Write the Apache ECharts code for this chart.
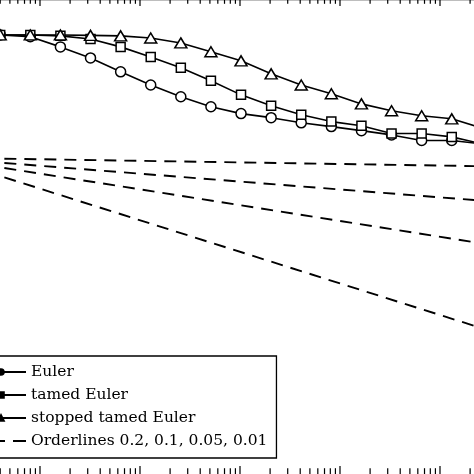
<!DOCTYPE html>
<html>
<head>
<meta charset="utf-8">
<script src="https://cdn.jsdelivr.net/npm/echarts@6/dist/echarts.min.js"></script>
<style>
    html, body { margin: 0; padding: 0; background: #fff; }
    #chart { width: 474px; height: 474px; }
</style>
</head>
<body>
<div id="chart"></div>
<script>
// number of steps (powers of two), last point lies just past the right edge
const steps = [4, 8, 16, 32, 64, 128, 256, 512, 1024, 2048, 4096, 8192, 16384, 32768, 65536, 131072, 262144]
const euler = [0.601, 0.586, 0.505, 0.430, 0.351, 0.290, 0.244, 0.211, 0.191, 0.180, 0.167, 0.158, 0.149, 0.140, 0.129, 0.129, 0.123]
const tamedEuler = [0.601, 0.601, 0.593, 0.567, 0.505, 0.436, 0.372, 0.308, 0.251, 0.214, 0.188, 0.170, 0.160, 0.143, 0.143, 0.136, 0.123]
const stoppedTamedEuler = [0.601, 0.601, 0.601, 0.597, 0.593, 0.575, 0.535, 0.470, 0.412, 0.341, 0.290, 0.255, 0.220, 0.199, 0.185, 0.177, 0.155]

// order lines 0.2, 0.1, 0.05, 0.01 : start / end values
const orderX = [4.4, 262144]
const order001 = [0.0990, 0.0887]
const order005 = [0.0930, 0.0537]
const order01 = [0.0865, 0.0288]
const order02 = [0.0754, 0.00837]

// axis ticks (log x axis)
const majorTicks = [10, 100, 1000, 10000, 100000]
const minorTicks = [4, 5, 6, 7, 8, 9,
    20, 30, 40, 50, 60, 70, 80, 90,
    200, 300, 400, 500, 600, 700, 800, 900,
    2000, 3000, 4000, 5000, 6000, 7000, 8000, 9000,
    20000, 30000, 40000, 50000, 60000, 70000, 80000, 90000,
    200000]

const xMin = 3.981
const xMax = 218776
const yMin = 0.001
const yMax = 1

const ORDER_NAME = 'Orderlines 0.2, 0.1, 0.05, 0.01'
const zip = (xs, ys) => xs.map((x, i) => [x, ys[i]])

const chart = echarts.init(document.getElementById('chart'), null, { renderer: 'canvas' })

const markSeries = (name, data, symbol, symbolSize) => ({
    name,
    type: 'line',
    data: zip(steps, data),
    symbol,
    symbolSize,
    showSymbol: true,
    clip: true,
    lineStyle: { color: '#000', width: 1.6 },
    itemStyle: { color: '#fff', borderColor: '#000', borderWidth: 1.5 },
    z: 3
})

const orderSeries = data => ({
    name: ORDER_NAME,
    type: 'line',
    data: zip(orderX, data),
    symbol: 'none',
    clip: true,
    lineStyle: { color: '#000', width: 1.9, type: [12, 8] },
    itemStyle: { color: '#000' },
    z: 2
})

const tickData = majorTicks.map(v => [v, 0.5, 1]).concat(minorTicks.map(v => [v, 0.5, 0]))

const option = {
    animation: false,
    backgroundColor: '#fff',
    grid: { left: 0, right: 0, top: 0, bottom: -1 },
    xAxis: [{
        type: 'log',
        min: xMin,
        max: xMax,
        position: 'bottom',
        axisLine: { show: false },
        axisTick: { show: false },
        axisLabel: { show: false },
        splitLine: { show: false }
    }, {
        type: 'log',
        min: xMin,
        max: xMax,
        position: 'top',
        axisLine: { show: true, lineStyle: { color: '#bdbdbd', width: 2 } },
        axisTick: { show: false },
        axisLabel: { show: false },
        splitLine: { show: false }
    }],
    yAxis: {
        type: 'log',
        min: yMin,
        max: yMax,
        show: false
    },
    legend: {
        orient: 'vertical',
        left: -33,
        top: 356,
        itemWidth: 50,
        itemHeight: 7,
        itemGap: 7,
        padding: [8, 9, 9, 8],
        borderColor: '#000',
        borderWidth: 1.3,
        borderRadius: 0,
        backgroundColor: '#fff',
        textStyle: { fontFamily: 'DejaVu Serif', fontSize: 15.5, color: '#000' },
        data: [
            { name: 'Euler', itemStyle: { color: '#000', borderColor: '#000' } },
            { name: 'tamed Euler', itemStyle: { color: '#000', borderColor: '#000' } },
            { name: 'stopped tamed Euler', itemStyle: { color: '#000', borderColor: '#000' } },
            {
                name: ORDER_NAME,
                icon: 'path://M0,0h9v1.8h-9z M17,0h12v1.8h-12z M37,0h13v1.8h-13z',
                itemStyle: { color: '#000' }
            }
        ]
    },
    series: [
        markSeries('Euler', euler, 'circle', 10),
        markSeries('tamed Euler', tamedEuler, 'rect', 9),
        markSeries('stopped tamed Euler', stoppedTamedEuler, 'triangle', [12, 10]),
        orderSeries(order02),
        orderSeries(order01),
        orderSeries(order005),
        orderSeries(order001),
        {
            // tick marks on the top and bottom frame
            type: 'custom',
            silent: true,
            clip: false,
            data: tickData,
            encode: { x: 0, y: 1 },
            renderItem(params, api) {
                const v = api.value(0)
                const major = api.value(2) === 1
                const top = api.coord([v, yMax])
                const bottom = api.coord([v, yMin])
                const len = major ? 6 : 3.8
                const style = { stroke: '#000', lineWidth: 1.2 }
                return {
                    type: 'group',
                    children: [
                        { type: 'line', shape: { x1: top[0], y1: top[1], x2: top[0], y2: top[1] + len }, style },
                        { type: 'line', shape: { x1: bottom[0], y1: bottom[1], x2: bottom[0], y2: bottom[1] - len - 2 }, style }
                    ]
                }
            },
            z: 1
        }
    ]
}

chart.setOption(option)
</script>
</body>
</html>
